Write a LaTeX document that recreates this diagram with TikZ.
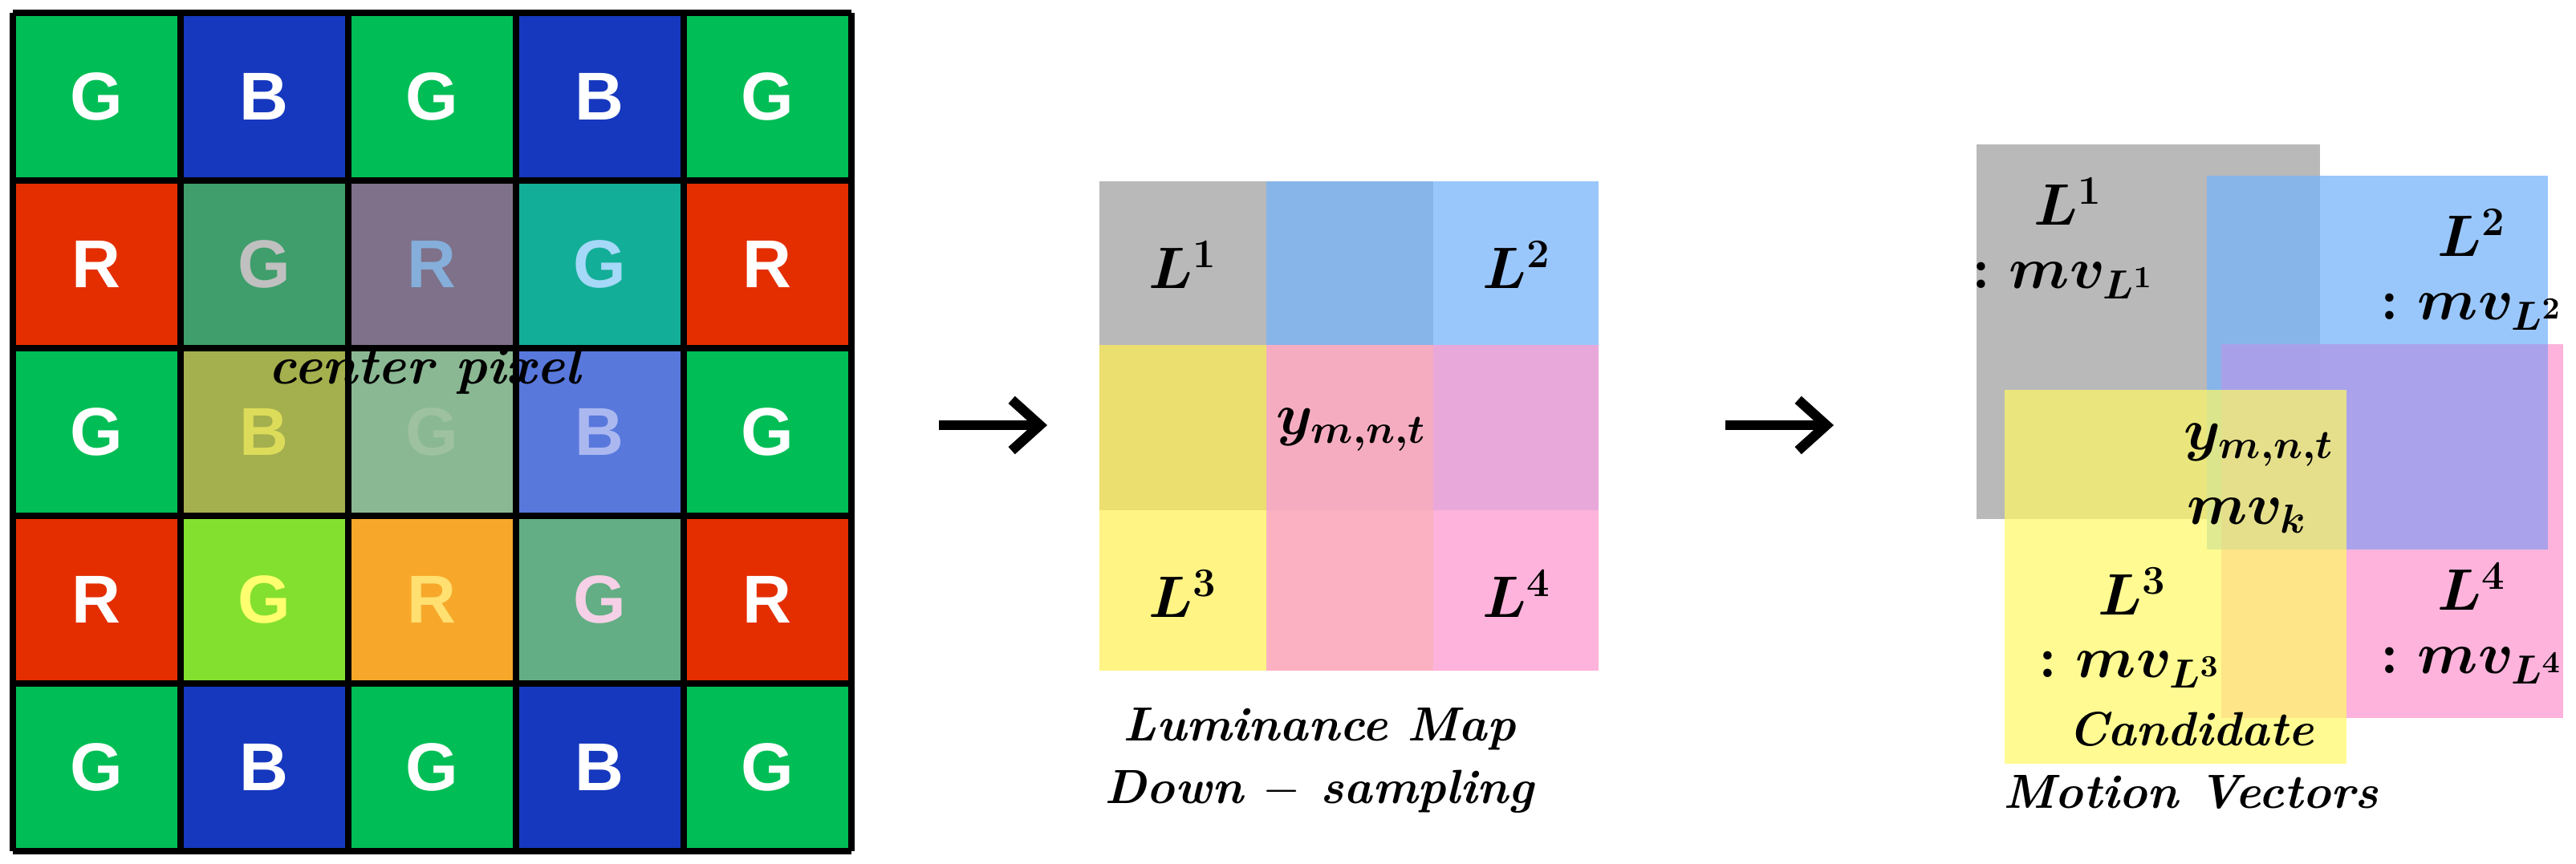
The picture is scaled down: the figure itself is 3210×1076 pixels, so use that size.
\documentclass[tikz,border=0pt]{standalone}
\usepackage{amsmath}
\usepackage{fontspec}
\usetikzlibrary{arrows.meta}
\newfontfamily\arialb{Liberation Sans}
\begin{document}
\begin{tikzpicture}[x=0.01cm,y=-0.01cm,
  lt/.style={font=\arialb\bfseries\fontsize{24}{28}\selectfont},
  mt/.style={font=\fontsize{22}{26}\selectfont},
  ct/.style={font=\fontsize{17}{22}\selectfont\bfseries\itshape, align=center}]
\useasboundingbox (0,0) rectangle (3210,1076);
% left grid
\def\cs{209}
\foreach \r/\c/\col/\txt/\tc in {
0/0/00BE55/G/FFFFFF,0/1/1638BE/B/FFFFFF,0/2/00BE55/G/FFFFFF,0/3/1638BE/B/FFFFFF,0/4/00BE55/G/FFFFFF,
1/0/E42E00/R/FFFFFF,1/1/3F9E6B/G/C0C0C0,1/2/7E7189/R/85AEDA,1/3/13AE97/G/A6D8F8,1/4/E42E00/R/FFFFFF,
2/0/00BE55/G/FFFFFF,2/1/A4AF4E/B/DCDC5A,2/2/8AB893/G/9EC29F,2/3/5878DC/B/ABB8F0,2/4/00BE55/G/FFFFFF,
3/0/E42E00/R/FFFFFF,3/1/84E02E/G/FFFF70,3/2/F7A82B/R/FFE070,3/3/63AE84/G/F6D0E6,3/4/E42E00/R/FFFFFF,
4/0/00BE55/G/FFFFFF,4/1/1638BE/B/FFFFFF,4/2/00BE55/G/FFFFFF,4/3/1638BE/B/FFFFFF,4/4/00BE55/G/FFFFFF}{
  \definecolor{tmpc}{HTML}{\col}
  \definecolor{tmpt}{HTML}{\tc}
  \fill[tmpc] (16+\c*\cs,16+\r*\cs) rectangle ++(\cs,\cs);
  \node[lt,text=tmpt] (cell\r\c) at (16+\c*\cs+104,16+\r*\cs+104) {\txt};
}
\foreach \i in {0,...,5}{
  \draw[line width=2.5pt] (16+\i*\cs,16) -- (16+\i*\cs,1061);
  \draw[line width=2.5pt] (16,16+\i*\cs) -- (1061,16+\i*\cs);
}
\node[font=\fontsize{19}{22}\selectfont\bfseries\itshape] (cp) at (529,462) {center pixel};
% arrows
\coordinate (a1s) at (1170,530); \coordinate (a1e) at (1305,530);
\coordinate (a2s) at (2150,530); \coordinate (a2e) at (2285,530);
\draw[line width=3.5pt,-{Straight Barb[length=10pt,width=18pt]}] (a1s) -- (a1e);
\draw[line width=3.5pt,-{Straight Barb[length=10pt,width=18pt]}] (a2s) -- (a2e);
% middle panel
\fill[gray!55!white] (1370,226) rectangle (1786,636);
\fill[fill={rgb,255:red,120;green,180;blue,250},fill opacity=0.75] (1578,226) rectangle (1992,636);
\fill[fill={rgb,255:red,255;green,240;blue,80},fill opacity=0.7] (1370,430) rectangle (1786,836);
\fill[fill={rgb,255:red,252;green,160;blue,210},fill opacity=0.8] (1578,430) rectangle (1992,836);
\node[mt] (m1) at (1474,330) {$\boldsymbol{L^1}$};
\node[mt] (m2) at (1890,330) {$\boldsymbol{L^2}$};
\node[mt] (m0) at (1684,536) {$\boldsymbol{y_{m,n,t}}$};
\node[mt] (m3) at (1474,740) {$\boldsymbol{L^3}$};
\node[mt] (m4) at (1890,740) {$\boldsymbol{L^4}$};
\node[ct] (cap1) at (1644,948) {Luminance Map\\Down $-$ sampling};
% right panel
\fill[gray!55!white] (2463,180) rectangle (2891,647);
\fill[fill={rgb,255:red,120;green,180;blue,250},fill opacity=0.75] (2750,219) rectangle (3175,685);
\fill[fill={rgb,255:red,252;green,160;blue,210},fill opacity=0.8] (2768,429) rectangle (3194,895);
\fill[fill={rgb,255:red,120;green,160;blue,250},fill opacity=0.55] (2768,429) rectangle (3175,685);
\fill[fill={rgb,255:red,255;green,250;blue,100},fill opacity=0.7] (2498,486) rectangle (2924,952);
\node[mt] (r1) at (2577,251) {$\boldsymbol{L^1}$};
\node[mt] (r1v) at (2571,350) {$\boldsymbol{:mv_{L^1}}$};
\node[mt] (r2) at (3080,290) {$\boldsymbol{L^2}$};
\node[mt] (r2v) at (3080,389) {$\boldsymbol{:mv_{L^2}}$};
\node[mt] (r0) at (2815,555) {$\boldsymbol{y_{m,n,t}}$};
\node[mt] (rk) at (2800,643) {$\boldsymbol{mv_k}$};
\node[mt] (r3) at (2657,737) {$\boldsymbol{L^3}$};
\node[mt] (r3v) at (2654,835) {$\boldsymbol{:mv_{L^3}}$};
\node[mt] (r4) at (3080,731) {$\boldsymbol{L^4}$};
\node[mt] (r4v) at (3080,830) {$\boldsymbol{:mv_{L^4}}$};
\node[ct] (cap2) at (2730,948) {Candidate\\Motion Vectors};
\end{tikzpicture}
\end{document}
